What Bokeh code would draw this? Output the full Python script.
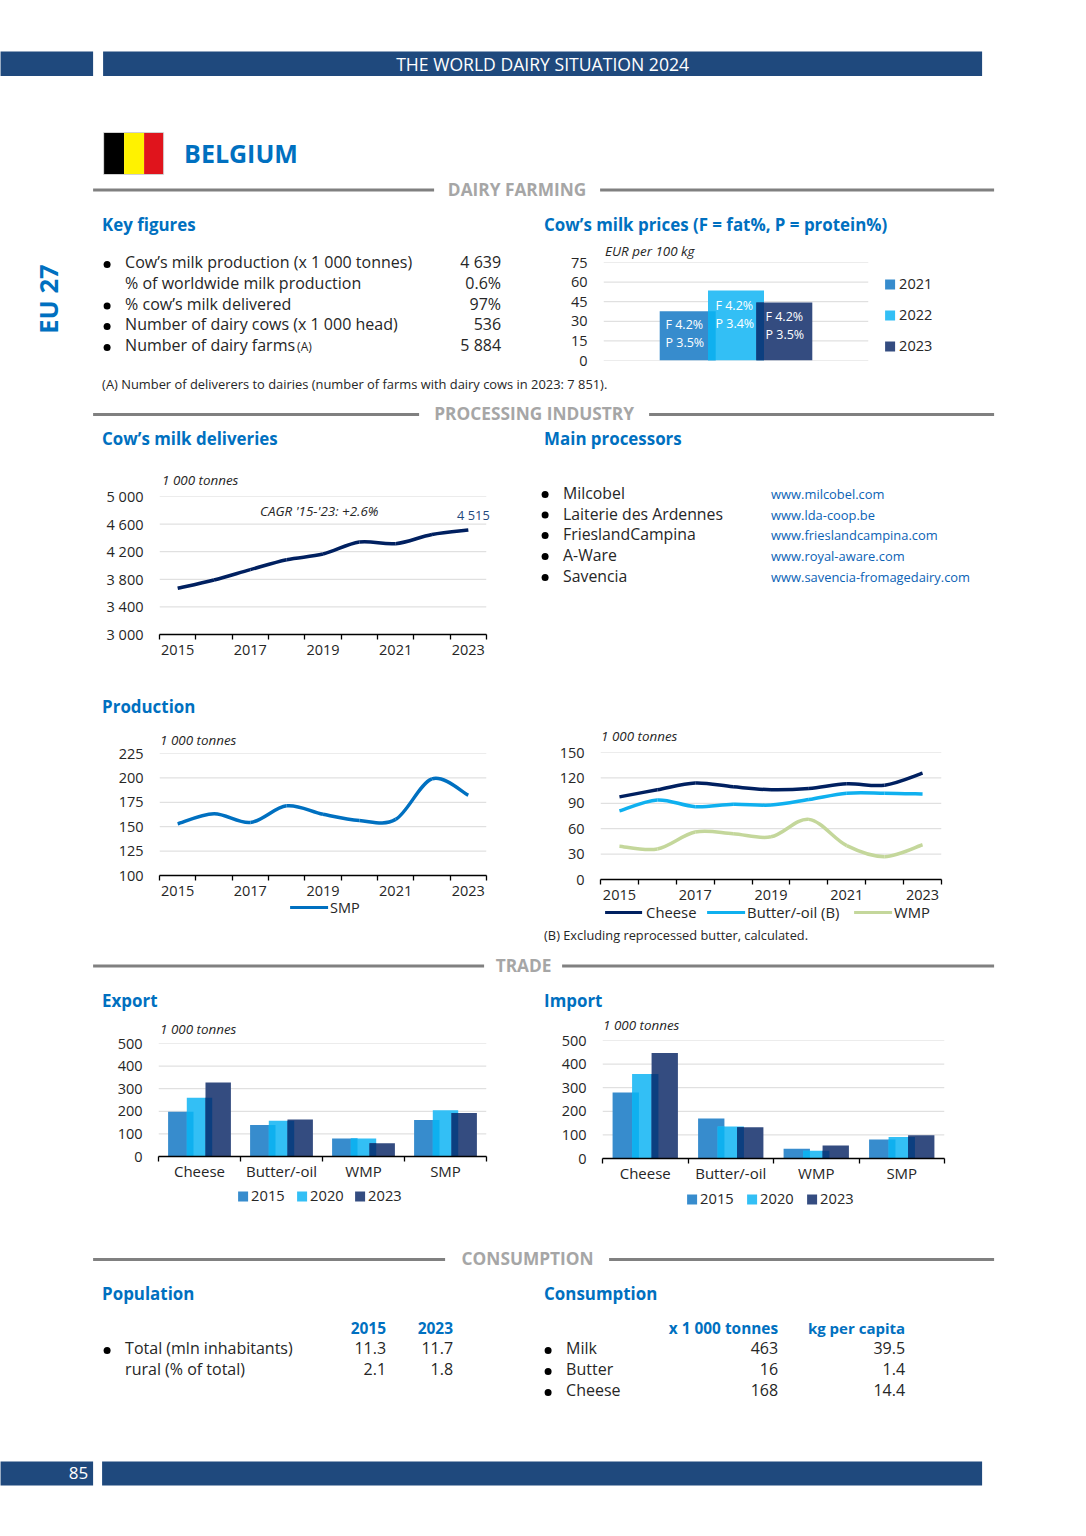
from math import pi
import numpy as np
from bokeh.plotting import figure
from bokeh.layouts import column
from bokeh.models import LinearAxis, FixedTicker, Range1d
from bokeh.core.properties import value
from bokeh.embed import file_html
from bokeh.resources import INLINE

# ---------- data ----------
years = [2015, 2016, 2017, 2018, 2019, 2020, 2021, 2022, 2023]
deliveries = [3670, 3790, 3940, 4084, 4166, 4340, 4316, 4450, 4515]
smp_prod = [152.9, 163.2, 154.3, 171.4, 162.8, 156.4, 157.5, 199, 182.3]
cheese_prod = [97.6, 106, 114, 109.5, 106, 107.5, 113, 111.4, 125.6]
butter_prod = [81, 94, 86, 89, 88, 94.5, 102, 102, 101]
wmp_prod = [39.4, 36, 56, 54, 50.4, 71, 40, 27, 41]
price_years = ["2021", "2022", "2023"]
price_values = [37.7, 53.6, 44.4]
price_labels = [("F 4.2%", "P 3.5%"), ("F 4.2%", "P 3.4%"), ("F 4.2%", "P 3.5%")]
trade_cats = ["Cheese", "Butter/-oil", "WMP", "SMP"]
trade_years = ["2015", "2020", "2023"]
export_vals = [[197.6, 139, 80, 161], [260, 158, 80, 205], [327, 164, 59, 193]]
import_vals = [[280, 170, 41, 81], [358, 136, 33, 91], [447, 132, 55, 99]]
key_labels = ["Cow’s milk production (x 1 000 tonnes)", "% of worldwide milk production",
              "% cow’s milk delivered", "Number of dairy cows (x 1 000 head)", "Number of dairy farms"]
key_values = ["4 639", "0.6%", "97%", "536", "5 884"]
processors = ["Milcobel", "Laiterie des Ardennes", "FrieslandCampina", "A-Ware", "Savencia"]
processor_links = ["www.milcobel.com", "www.lda-coop.be", "www.frieslandcampina.com",
                   "www.royal-aware.com", "www.savencia-fromagedairy.com"]
pop_labels = ["Total (mln inhabitants)", "rural (% of total)"]
pop_2015 = ["11.3", "2.1"]
pop_2023 = ["11.7", "1.8"]
cons_labels = ["Milk", "Butter", "Cheese"]
cons_tonnes = ["463", "16", "168"]
cons_capita = ["39.5", "1.4", "14.4"]

# ---------- style ----------
FONT = "Open Sans"
NAVY = "#1f497d"
BLUE = "#0070c0"
GREY = "#a6a6a6"
RULE = "#808080"
INK = "#262626"
GRID = "#d9d9d9"
BAR = ["#378ccd", "#33bff5", "#344c80"]
OVER = ["#0fb0ef", "#0c3f80"]
L_DARK = "#002060"
L_LIGHT = "#0fb0ef"
L_GREEN = "#c4d79b"

# ---------- page layer ----------
page = figure(width=1086, height=1536, x_range=Range1d(0.4, 1086.4), y_range=Range1d(1536, 0),
              output_backend="svg", toolbar_location=None, min_border=0, frame_align=False,
              x_axis_location=None, y_axis_location=None,
              background_fill_color="white", border_fill_color="white", outline_line_color=None)
page.grid.visible = False


def T(x, y, s, size=15.5, color=INK, bold=False, italic=False, align="left", angle=0):
    style = ("bold " if bold else "") + ("italic" if italic else "")
    page.text(x=[x], y=[y - 0.5], text=[s], text_font=value(FONT), text_font_size=f"{size}px",
              text_color=color, text_align=align, text_baseline="middle",
              text_font_style=(style.strip() or "normal"), angle=angle)


def R(x0, x1, y0, y1, color):
    page.quad(left=[x0], right=[x1], top=[y0], bottom=[y1], fill_color=color, line_color=None)


def DOT(x, y):
    page.scatter(x=[x], y=[y], size=7, fill_color="black", line_color=None)


def RULES(y, x1, x2, label, cx):
    R(93, x1, y - 1.5, y + 1.5, RULE)
    R(x2, 994, y - 1.5, y + 1.5, RULE)
    T(cx, y - 0.5, label, size=17.3, color=GREY, bold=True, align="center")


R(0, 93, 51, 75.5, NAVY)
R(103, 982, 51, 75.5, NAVY)
T(542.5, 64, "THE WORLD DAIRY SITUATION 2024", size=17.6, color="white", align="center")
R(0, 93, 1461, 1485, NAVY)
R(102, 982, 1461, 1485, NAVY)
T(88, 1473, "85", size=17, color="white", align="right")
T(48, 299, "EU 27", size=25.5, color=BLUE, bold=True, align="center", angle=pi / 2)

page.quad(left=[103.5], right=[163.5], top=[132], bottom=[174], fill_color=None, line_color="#d0d0d0", line_width=1)
R(104, 124, 132.5, 173.5, "#000000")
R(124, 144, 132.5, 173.5, "#fff200")
R(144, 163, 132.5, 173.5, "#e0141c")
T(184, 153, "BELGIUM", size=25, color=BLUE, bold=True)

RULES(189.5, 434, 600, "DAIRY FARMING", 517)
RULES(414, 419, 649, "PROCESSING INDUSTRY", 534)
RULES(965.5, 484, 562, "TRADE", 523.5)
RULES(1259, 445, 609, "CONSUMPTION", 527.5)

for x, y, s in [(102, 224.5, "Key figures"), (544, 224.5, "Cow’s milk prices (F = fat%, P = protein%)"),
                (102, 438.5, "Cow’s milk deliveries"), (544, 438.5, "Main processors"),
                (102, 706, "Production"), (102, 1000.5, "Export"), (544, 1000.5, "Import"),
                (102, 1293.5, "Population"), (544, 1293.5, "Consumption")]:
    T(x, y, s, size=16.9, color=BLUE, bold=True)

key_y = [262, 283, 303.5, 324, 345]
for i, (lab, val) in enumerate(zip(key_labels, key_values)):
    T(125, key_y[i], lab, size=16)
    T(501, key_y[i], val, size=16, align="right")
    if i != 1:
        DOT(107, key_y[i] + 2)
T(297, 346, "(A)", size=12)
T(102, 383.5, "(A) Number of deliverers to dairies (number of farms with dairy cows in 2023: 7 851).", size=12.9)

T(605, 250.5, "EUR per 100 kg", size=13.4, italic=True)
for i, (yr, y) in enumerate(zip(price_years, [284, 315, 346])):
    R(885, 895, y - 5, y + 5, BAR[i])
    T(899, y, yr, size=14.5)

proc_y = [494, 514.5, 535, 556, 577]
for i in range(5):
    DOT(545, proc_y[i])
    T(563, proc_y[i] - 1, processors[i], size=15.8)
    T(771, proc_y[i], processor_links[i], size=12.9, color="#0b62b5")

T(162, 479.5, "1 000 tonnes", size=13.4, italic=True)
T(260, 510.5, "CAGR '15-'23: +2.6%", size=13.4, italic=True)
T(457, 514.5, "4 515", size=12.8, color=NAVY)

T(160, 739.5, "1 000 tonnes", size=13.4, italic=True)
R(290, 328, 905.5, 908.5, BLUE)
T(330, 907, "SMP", size=14.5)

T(601, 736, "1 000 tonnes", size=13.4, italic=True)
for x0, x1, tx, s, c in [(605, 642, 646, "Cheese", L_DARK), (707, 745, 747, "Butter/-oil (B)", L_LIGHT),
                         (854, 892, 894, "WMP", L_GREEN)]:
    R(x0, x1, 910.5, 913.5, c)
    T(tx, 912, s, size=14.8)
T(544, 935, "(B) Excluding reprocessed butter, calculated.", size=12.8)

T(160, 1028.5, "1 000 tonnes", size=13.4, italic=True)
T(603, 1024.5, "1 000 tonnes", size=13.4, italic=True)
for i, (x, tx) in enumerate([(238, 251), (297, 310), (355, 368)]):
    R(x, x + 10, 1191, 1201, BAR[i])
    T(tx, 1196, trade_years[i], size=14.7)
for i, (x, tx) in enumerate([(687, 700), (747, 760), (807, 820)]):
    R(x, x + 10, 1194, 1204, BAR[i])
    T(tx, 1199, trade_years[i], size=14.7)

T(386, 1328, "2015", size=15.5, color=BLUE, bold=True, align="right")
T(453, 1328, "2023", size=15.5, color=BLUE, bold=True, align="right")
for i, y in enumerate([1348, 1369]):
    T(125, y, pop_labels[i], size=16)
    T(386, y, pop_2015[i], size=16, align="right")
    T(453, y, pop_2023[i], size=16, align="right")
DOT(107, 1350)

T(778, 1328, "x 1 000 tonnes", size=15.4, color=BLUE, bold=True, align="right")
T(905, 1328, "kg per capita", size=15, color=BLUE, bold=True, align="right")
for i, y in enumerate([1348, 1369, 1390]):
    DOT(548, y + 2)
    T(566, y, cons_labels[i], size=16)
    T(778, y, cons_tonnes[i], size=16, align="right")
    T(905, y, cons_capita[i], size=16, align="right")

# ---------- chart helpers ----------
ML, MR, MT, MB = 70, 30, 12, 40
flow_y = 1536  # page position where the next stacked figure would start


def base(fx0, fx1, fy0, fy1, xr, yr, yticks, ylabels, tick_size=14.5, standoff=10):
    global flow_y
    w = round(fx1 - fx0) + ML + MR
    h = round(fy1 - fy0) + MT + MB
    top = round(fy0) - MT
    p = figure(width=w, height=h, x_range=Range1d(*xr), y_range=Range1d(*yr),
               output_backend="svg", toolbar_location=None, frame_align=False,
               min_border_left=ML, min_border_right=MR, min_border_top=MT, min_border_bottom=MB,
               x_axis_type=None, y_axis_type=None,
               margin=(top - flow_y, 0, 0, round(fx0) - ML),
               background_fill_color=None, border_fill_color=None, outline_line_color=None)
    flow_y = top + h
    ax = LinearAxis(ticker=FixedTicker(ticks=yticks), axis_line_color=None,
                    major_tick_line_color=None, minor_tick_line_color=None,
                    major_label_text_font=FONT, major_label_text_font_size=f"{tick_size}px",
                    major_label_text_color=INK, major_label_standoff=standoff,
                    major_label_overrides={t: l for t, l in zip(yticks, ylabels)})
    p.add_layout(ax, "left")
    for t in yticks:
        p.line(x=list(xr), y=[t, t], line_color=GRID, line_width=1)
    return p


def bottom_axis(p, ticks, labels, bounds, tick_size=14.5, standoff=5):
    ax = LinearAxis(ticker=FixedTicker(ticks=ticks, minor_ticks=bounds),
                    axis_line_color="black", axis_line_width=1.3,
                    major_tick_in=0, major_tick_out=0, minor_tick_in=0, minor_tick_out=5,
                    minor_tick_line_color="black", minor_tick_line_width=1.3,
                    major_label_text_font=FONT, major_label_text_font_size=f"{tick_size}px",
                    major_label_text_color=INK, major_label_standoff=standoff,
                    major_label_overrides={t: l for t, l in zip(ticks, labels)})
    p.add_layout(ax, "below")


def smooth(p, xs, ys, color, width=3.5):
    """Smooth series line: one Bezier segment between each pair of read values."""
    n = len(xs)
    X = np.array(xs, float)
    Y = np.array(ys, float)
    i0 = np.arange(n - 1)
    prev = np.maximum(i0 - 1, 0)
    nxt = np.minimum(i0 + 2, n - 1)
    p.bezier(x0=X[i0], y0=Y[i0], x1=X[i0 + 1], y1=Y[i0 + 1],
             cx0=X[i0] + (X[i0 + 1] - X[prev]) / 6, cy0=Y[i0] + (Y[i0 + 1] - Y[prev]) / 6,
             cx1=X[i0 + 1] - (X[nxt] - X[i0]) / 6, cy1=Y[i0 + 1] - (Y[nxt] - Y[i0]) / 6,
             line_color=color, line_width=width)


def year_chart(fx0, fx1, fy0, fy1, yr, yticks, ylabels, series):
    p = base(fx0, fx1, fy0, fy1, (2014.5, 2023.5), yr, yticks, ylabels)
    for vals, c in series:
        smooth(p, years, vals, c)
    shown = years[::2]
    bottom_axis(p, shown, [str(y) for y in shown], [y - 0.5 for y in years] + [2023.5])
    return p


def dodge_bars(p, centers, series, width):
    """series: list of value lists, one per bar colour; centers: list of x lists."""
    for i, vals in enumerate(series):
        p.vbar(x=centers[i], top=vals, bottom=0, width=width, fill_color=BAR[i], line_color=None)
    for i in range(len(series) - 1):
        left = np.array(centers[i + 1]) - width / 2
        right = np.array(centers[i]) + width / 2
        p.quad(left=left, right=right, bottom=0, top=np.minimum(series[i], series[i + 1]),
               fill_color=OVER[i], line_color=None)


def trade_chart(fx0, fx1, fy0, fy1, vals, width, step):
    ticks = [0, 100, 200, 300, 400, 500]
    p = base(fx0, fx1, fy0, fy1, (0, 4), (0, 500), ticks, [str(t) for t in ticks])
    idx = np.arange(len(trade_cats)) + 0.5
    centers = [list(idx + (i - 1) * step) for i in range(3)]
    dodge_bars(p, centers, vals, width)
    bottom_axis(p, list(idx), trade_cats, [0, 1, 2, 3, 4], tick_size=15, standoff=-1)
    return p


# ---------- charts ----------
charts = []

pt = [0, 15, 30, 45, 60, 75]
prices = base(603, 868, 262, 360, (0, 1), (0, 75), pt, [str(t) for t in pt])
pstep = 48.3 / 265
pw = 56 / 265
pc = [[0.5 + (i - 1) * pstep] for i in range(3)]
dodge_bars(prices, pc, [[v] for v in price_values], pw)
label_pos = [(665, 324, 342), (715, 305, 323), (765, 316, 334)]
for (x, y1, y2), (a, b) in zip(label_pos, price_labels):
    for yy, s in ((y1, a), (y2, b)):
        prices.text(x=[(x - 603) / 265], y=[(360 - yy) / 98 * 75], text=[s], text_font=value(FONT),
                    text_font_size="12.5px", text_color="white", text_baseline="middle")
charts.append(prices)

dt = [3000, 3400, 3800, 4200, 4600, 5000]
charts.append(year_chart(159, 486, 496, 634, (3000, 5000), dt, ["3 000", "3 400", "3 800", "4 200", "4 600", "5 000"],
                         [(deliveries, L_DARK)]))
st = [100, 125, 150, 175, 200, 225]
charts.append(year_chart(159, 486, 753, 875, (100, 225), st, [str(t) for t in st], [(smp_prod, BLUE)]))
mt = [0, 30, 60, 90, 120, 150]
charts.append(year_chart(600, 941, 752, 879, (0, 150), mt, [str(t) for t in mt],
                         [(wmp_prod, L_GREEN), (butter_prod, L_LIGHT), (cheese_prod, L_DARK)]))
charts.append(trade_chart(158, 486, 1043, 1156, export_vals, 0.31, 0.228))
charts.append(trade_chart(602, 944, 1040, 1158, import_vals, 0.308, 0.228))

root = column(page, *charts)
open("out.html", "w").write(file_html(root, INLINE))
